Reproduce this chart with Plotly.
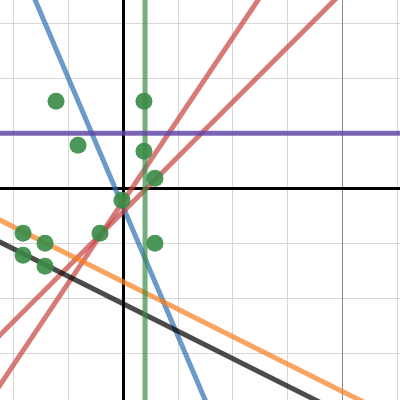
import plotly.graph_objects as go
import numpy as np

# scatter points
pt_x = [-1.22, 0.38, -0.82, 0.38, 0.58, -0.02, -0.42, -1.82, -1.42, 0.58, -1.82, -1.42]
pt_y = [1.58, 1.58, 0.78, 0.67, 0.18, -0.22, -0.82, -0.82, -1.0, -1.0, -1.22, -1.42]

# sloped lines y = m*x + b
line_names = ["blue", "red1", "red2", "orange", "black"]
line_slopes = [-2.35, 1.49, 1.0, -0.5, -0.5]
line_intercepts = [-0.34, -0.24, -0.43, -1.7, -2.1]
line_colors = ["#2d70b3", "#c74440", "#c74440", "#fa7e19", "#000000"]

vert_x = 0.4
horiz_y = 1.0

x_range = [-2.24, 5.04]
y_range = [-3.85, 3.42]

fig = go.Figure()
xs = np.array([x_range[0] - 1, x_range[1] + 1])
for name, m, b, c in zip(line_names, line_slopes, line_intercepts, line_colors):
    fig.add_trace(go.Scatter(x=xs, y=m * xs + b, mode="lines", name=name,
                             line=dict(color=c, width=5), opacity=0.7))

fig.add_trace(go.Scatter(x=[vert_x, vert_x], y=[y_range[0] - 1, y_range[1] + 1], mode="lines",
                         line=dict(color="#388c46", width=5), opacity=0.7))
fig.add_trace(go.Scatter(x=[x_range[0] - 1, x_range[1] + 1], y=[horiz_y, horiz_y], mode="lines",
                         line=dict(color="#6042a6", width=5), opacity=0.8))
fig.add_trace(go.Scatter(x=pt_x, y=pt_y, mode="markers",
                         marker=dict(color="#388c46", size=17, opacity=0.9)))

axis = dict(showticklabels=False, dtick=4, gridcolor="#888", gridwidth=1,
            minor=dict(dtick=1, gridcolor="#d8d8d8", gridwidth=1, showgrid=True),
            zeroline=True, zerolinecolor="black", zerolinewidth=3, fixedrange=True)
fig.update_layout(
    width=400, height=400, margin=dict(l=0, r=0, t=0, b=0),
    showlegend=False, plot_bgcolor="white", paper_bgcolor="white",
    xaxis=dict(range=x_range, **axis),
    yaxis=dict(range=y_range, **axis),
)
fig.write_html("out.html", config={"displayModeBar": False},
               post_script="document.body.style.margin='0';")
